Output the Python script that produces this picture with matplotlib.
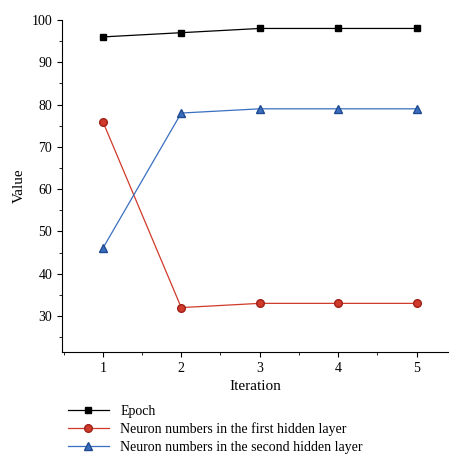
import matplotlib
matplotlib.use("Agg")
import matplotlib.pyplot as plt
from matplotlib.ticker import AutoMinorLocator

plt.rcParams['font.family'] = ['Liberation Serif', 'DejaVu Serif']

iterations = [1, 2, 3, 4, 5]
epoch = [96, 97, 98, 98, 98]
first_layer = [76, 32, 33, 33, 33]
second_layer = [46, 78, 79, 79, 79]

fig = plt.figure(figsize=(4.74, 4.71), dpi=100)
ax = fig.add_axes([62/474, 1-352/471, 386/474, 332/471])
ax.plot(iterations, epoch, color='black', marker='s', ms=5, lw=0.9, label='Epoch')
ax.plot(iterations, first_layer, color='#d03a2a', marker='o', ms=5.5, lw=0.9,
        markeredgecolor='#a02018', label='Neuron numbers in the first hidden layer')
ax.plot(iterations, second_layer, color='#3a6fc0', marker='^', ms=6, lw=0.9,
        markeredgecolor='#1f4a90', label='Neuron numbers in the second hidden layer')
ax.set_xlim(0.48, 5.4)
ax.set_ylim(21.5, 100)
ax.set_xticks(iterations)
ax.set_yticks(range(30, 101, 10))
ax.xaxis.set_minor_locator(AutoMinorLocator(2))
ax.yaxis.set_minor_locator(AutoMinorLocator(2))
ax.spines['top'].set_visible(False)
ax.spines['right'].set_visible(False)
ax.tick_params(labelsize=10)
ax.set_xlabel('Iteration', fontsize=11)
ax.set_ylabel('Value', fontsize=11)
fig.legend(loc='upper left', bbox_to_anchor=(55/474, 1-392/471), frameon=False,
           fontsize=10, handlelength=3, labelspacing=0.35)
fig.savefig('out.png', dpi=100)
